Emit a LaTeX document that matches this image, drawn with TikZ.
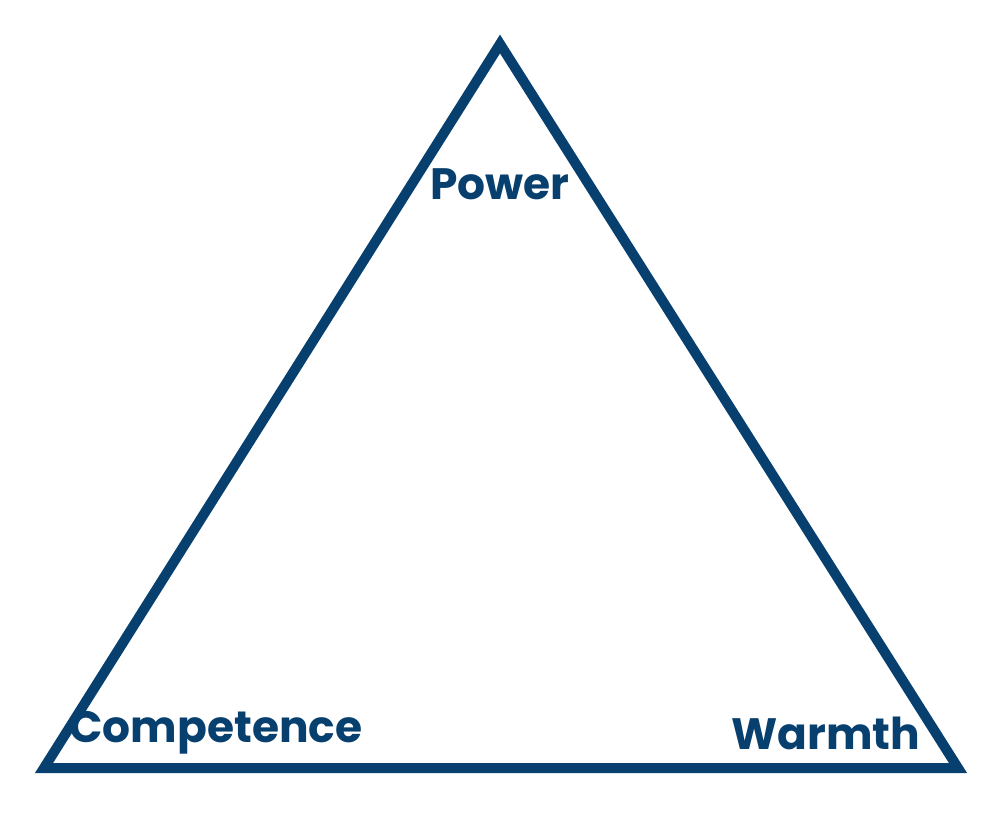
\documentclass[tikz,border=0pt]{standalone}
\usepackage{fontspec}
\setmainfont{Poppins}
\definecolor{navy}{HTML}{073F6E}
\begin{document}
\begin{tikzpicture}[x=0.02cm,y=-0.02cm,
  lbl/.style={text=navy,font=\fontsize{25}{30}\selectfont\bfseries,inner sep=0}]
\useasboundingbox (0,0) rectangle (1000,827);
\coordinate (t) at (500,44);
\coordinate (l) at (44,768);
\coordinate (r) at (958,768);
\draw[navy,line width=10*0.02cm,line join=miter] (t) -- (r) -- (l) -- cycle;
\node[lbl] (p) at (500,184) {Power};
\node[lbl] (c) at (216,733) {Competence};
\node[lbl] (w) at (826,733) {Warmth};
\end{tikzpicture}
\end{document}
